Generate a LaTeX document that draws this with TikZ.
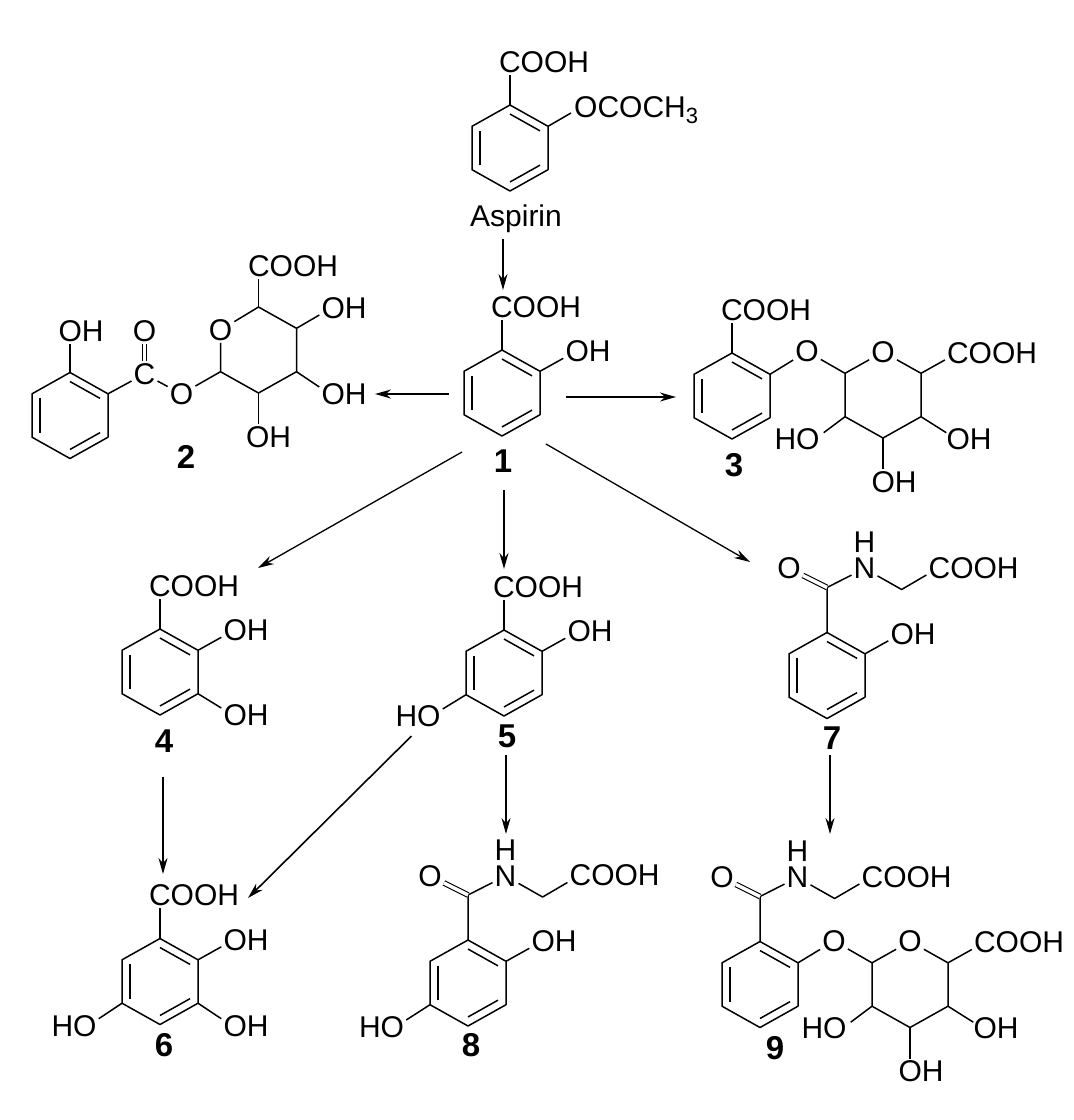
\documentclass[tikz,border=0pt]{standalone}
\usepackage{fontspec}
\setmainfont{Liberation Sans}
\usetikzlibrary{arrows.meta,calc}
\tikzset{
	bond/.style = {line width=1.5pt,line join=round},
	rxn/.style = {line width=1.3pt,-{Stealth[length=16pt,width=9pt]}},
	dbl/.style = {double,double distance=3.5pt,line width=1.1pt},
	lab/.style = {inner sep=2pt,font=\fontsize{30}{32}\selectfont},
	num/.style = {inner sep=1pt,font=\fontsize{33}{35}\selectfont\bfseries}
}
%six corners, a on top, then clockwise
\newcommand{\hexa}[3]{
	\begin{scope}[shift={(#2,#3)}]
		\coordinate (#1m) at (0,0);
		\coordinate (#1a) at (0,-43);
		\coordinate (#1b) at (38,-21.7);
		\coordinate (#1c) at (38,21.7);
		\coordinate (#1d) at (0,43);
		\coordinate (#1e) at (-38,21.7);
		\coordinate (#1f) at (-38,-21.7);
	\end{scope}
}
%benzene ring
\newcommand{\ring}[3]{
	\hexa{#1}{#2}{#3}
	\draw[bond] (#1a) -- (#1b) -- (#1c) -- (#1d) -- (#1e) -- (#1f) -- cycle;
	\draw[bond] ($(#1m)!.79!(#1a)$) -- ($(#1m)!.79!(#1b)$);
	\draw[bond] ($(#1m)!.79!(#1c)$) -- ($(#1m)!.79!(#1d)$);
	\draw[bond] ($(#1m)!.79!(#1e)$) -- ($(#1m)!.79!(#1f)$);
}
%COOH on the top corner
\newcommand{\cooh}[1]{
	\node[lab] (#1cooh) at ([shift={(34,-43)}]#1a) {COOH};
	\draw[bond] (#1a) -- (#1a |- #1cooh.south);
}
%OH on the upper right corner
\newcommand{\ohb}[1]{
	\node[lab] (#1ohb) at ([shift={(48,-20)}]#1b) {OH};
	\draw[bond] (#1b) -- ([shift={(0,7)}]#1ohb.west);
}
%CONHCH2COOH on the top corner
\newcommand{\amide}[1]{
	\coordinate (#1co) at ([shift={(0,-45)}]#1a);
	\coordinate (#1ch) at ([shift={(74.6,-43)}]#1a);
	\node[lab] (#1dbo) at ([shift={(-38,-64)}]#1a) {O};
	\node[lab] (#1n) at ([shift={(37.5,-64)}]#1a) {N};
	\node[lab,inner sep=0pt] (#1h) at ([shift={(37.5,-90)}]#1a) {H};
	\node[lab] (#1acid) at ([shift={(146.6,-64.5)}]#1a) {COOH};
	\draw[bond] (#1a) -- (#1co) -- (#1n) -- (#1ch) -- ([shift={(0,7)}]#1acid.west);
	\draw[dbl] (#1co) -- (#1dbo);
}
%glucuronide, ring O on top, joined to the phenyl corner b
\newcommand{\sugar}[4]{
	\hexa{#1}{#2}{#3}
	\node[lab] (#1o) at (#1a) {O};
	\node[lab] (#1lnk) at ([shift={(-38,-.5)}]#1f |- #1a) {O};
	\node[lab] (#1acid) at ([shift={(71,-42)}]#1b |- #1m) {COOH};
	\node[lab] (#1hol) at ([shift={(-48,22)}]#1e) {HO};
	\node[lab] (#1ohr) at ([shift={(48,22)}]#1c) {OH};
	\node[lab] (#1ohd) at ([shift={(11,44)}]#1d) {OH};
	\draw[bond] (#1lnk) -- (#1f) -- (#1o) -- (#1b) -- (#1c) -- (#1d) -- (#1e) -- (#1f);
	\draw[bond] (#4) -- (#1lnk);
	\draw[bond] (#1b) -- ([shift={(0,7)}]#1acid.west);
	\draw[bond] (#1e) -- ([shift={(2,-6)}]#1hol.east);
	\draw[bond] (#1c) -- ([shift={(2,-6)}]#1ohr.west);
	\draw[bond] (#1d) -- (#1d |- #1ohd.north);
}
\begin{document}
\begin{tikzpicture}[x=1pt,y=-1pt,>=latex]
	\useasboundingbox (0,0) rectangle (1074,1120);
	%Aspirin
	\ring{asp}{510}{148}
	\cooh{asp}
	\node[lab,anchor=base west] (aspoc) at (572,117) {OCOCH\raisebox{-6pt}{\fontsize{22}{22}\selectfont 3}};
	\draw[bond] (aspb) -- (571,113);
	\node[lab,anchor=base] (asplab) at (516,226) {Aspirin};
	%1
	\ring{x1}{502}{393}
	\cooh{x1}
	\ohb{x1}
	\node[num] (n1) at (503,461) {1};
	%2
	\ring{x2}{70}{415.5}
	\hexa{g2}{258.5}{350}
	\node[lab] (x2oh) at (81,331) {OH};
	\draw[bond] (x2a) -- (x2a |- x2oh.south);
	\node[lab] (x2co) at (144.5,374) {C};
	\node[lab] (x2do) at (144.5,331) {O};
	\node[lab] (x2lnk) at (181.5,394) {O};
	\node[lab] (g2o) at (220.5,330) {O};
	\node[lab] (g2acid) at (293,266) {COOH};
	\node[lab] (g2ohb) at (344,308) {OH};
	\node[lab] (g2ohc) at (344,394) {OH};
	\node[lab] (g2ohd) at (268.5,437) {OH};
	\node[num] (n2) at (186,457) {2};
	\draw[bond] (x2b) -- (x2co) -- (x2lnk) -- (g2e);
	\draw[dbl] (x2co) -- (x2do);
	\draw[bond] (g2e) -- (g2o) -- (g2a) -- (g2b) -- (g2c) -- (g2d) -- (g2e);
	\draw[bond] (g2a) -- (g2a |- g2acid.south);
	\draw[bond] (g2b) -- ([shift={(0,7)}]g2ohb.west);
	\draw[bond] (g2c) -- ([shift={(0,-7)}]g2ohc.west);
	\draw[bond] (g2d) -- (g2d |- g2ohd.north);
	%3
	\ring{x3}{732}{396}
	\cooh{x3}
	\sugar{g3}{883}{395}{x3b}
	\node[num] (n3) at (734,465) {3};
	%4
	\ring{x4}{160}{672}
	\cooh{x4}
	\ohb{x4}
	\node[lab] (x4ohc) at (246,715) {OH};
	\draw[bond] (x4c) -- ([shift={(0,-7)}]x4ohc.west);
	\node[num] (n4) at (164,741) {4};
	%5
	\ring{x5}{504}{673}
	\cooh{x5}
	\ohb{x5}
	\node[lab] (x5ho) at (418,716) {HO};
	\draw[bond] (x5e) -- ([shift={(0,-7)}]x5ho.east);
	\node[num] (n5) at (507,736) {5};
	%6
	\ring{x6}{160}{981.5}
	\cooh{x6}
	\ohb{x6}
	\node[lab] (x6ohc) at (246,1025.7) {OH};
	\draw[bond] (x6c) -- ([shift={(0,-7)}]x6ohc.west);
	\node[lab] (x6ho) at (74,1025.7) {HO};
	\draw[bond] (x6e) -- ([shift={(0,-7)}]x6ho.east);
	\node[num] (n6) at (164,1044.7) {6};
	%7
	\ring{x7}{827}{675.5}
	\amide{x7}
	\ohb{x7}
	\node[num] (n7) at (832,738) {7};
	%8
	\ring{x8}{468}{983}
	\amide{x8}
	\ohb{x8}
	\node[lab] (x8ho) at (381.5,1027) {HO};
	\draw[bond] (x8e) -- ([shift={(0,-7)}]x8ho.east);
	\node[num] (n8) at (471,1045.5) {8};
	%9
	\ring{x9}{760}{984.5}
	\amide{x9}
	\sugar{g9}{910}{984.5}{x9b}
	\node[num] (n9) at (775,1048.6) {9};
	%Frecce
	\coordinate (p0s) at (503,239);
	\coordinate (p0t) at (503,290);
	\coordinate (p2s) at (449,394);
	\coordinate (p2t) at (375,394);
	\coordinate (p3s) at (566,397);
	\coordinate (p3t) at (676,397);
	\coordinate (p4s) at (462,452);
	\coordinate (p4t) at (258,568);
	\coordinate (p5s) at (504,490);
	\coordinate (p5t) at (504,569);
	\coordinate (p7s) at (546,444);
	\coordinate (p7t) at (750,562);
	\coordinate (q6s) at (163,777);
	\coordinate (q6t) at (163,874);
	\coordinate (r6s) at (411.5,736);
	\coordinate (r6t) at (248,898);
	\coordinate (r8s) at (506,755);
	\coordinate (r8t) at (506,834);
	\coordinate (s9s) at (830,755);
	\coordinate (s9t) at (830,834);
	\draw[rxn] (p0s) -- (p0t);
	\draw[rxn,line width=1.7pt] (p2s) -- (p2t);
	\draw[rxn] (p3s) -- (p3t);
	\draw[rxn] (p4s) -- (p4t);
	\draw[rxn,line width=1.6pt] (p5s) -- (p5t);
	\draw[rxn] (p7s) -- (p7t);
	\draw[rxn,line width=1.6pt] (q6s) -- (q6t);
	\draw[rxn,line width=1.6pt] (r6s) -- (r6t);
	\draw[rxn] (r8s) -- (r8t);
	\draw[rxn,line width=1.6pt] (s9s) -- (s9t);
\end{tikzpicture}
\end{document}
